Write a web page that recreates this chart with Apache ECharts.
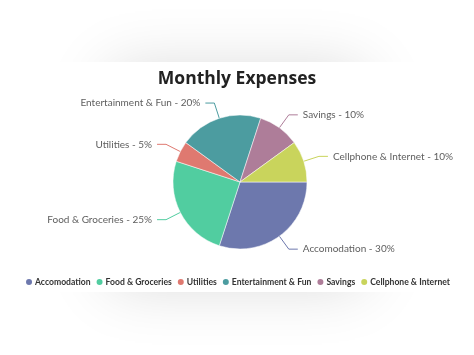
<!DOCTYPE html>
<html><head><meta charset="utf-8">
<script src="https://cdn.jsdelivr.net/npm/echarts@6/dist/echarts.min.js"></script>
<style>html,body{margin:0;padding:0;background:#fff}#c{width:474px;height:355px}</style>
</head><body><div id="c"></div>
<script>
const categories = ["Accomodation","Food & Groceries","Utilities","Entertainment & Fun","Savings","Cellphone & Internet"];
const values = [30,25,5,20,10,10];
const colors = ["#6D78AD","#51CDA0","#DF7970","#4C9CA0","#AE7D99","#C9D45C"];
const font = "Lato, 'Open Sans', sans-serif";
const chart = echarts.init(document.getElementById('c'));
chart.setOption({
  backgroundColor: '#ffffff',
  color: colors,
  graphic: [{
    type: 'rect', z: -20, silent: true,
    shape: {x: 110, y: 70, width: 254, height: 214},
    style: {fill: '#fff', shadowBlur: 60, shadowColor: 'rgba(0,0,0,0.16)'}
  },{
    type: 'rect', z: -10, silent: true,
    shape: {x: 0, y: 62, width: 474, height: 230},
    style: {fill: '#fff'}
  }],
  title: {
    text: 'Monthly Expenses', left: 'center', top: 65,
    textStyle: {fontFamily: "'Open Sans', Lato, sans-serif", fontSize: 17.5, fontWeight: 'bold', color: '#222'}
  },
  legend: {
    top: 277, left: 'center', width: 474, padding: 0, icon: 'circle', itemWidth: 8, itemHeight: 8, itemGap: 4,
    textStyle: {fontFamily: font, fontSize: 8.6, color: '#333', fontWeight: 'bold', padding: [0,0,0,-3]},
    data: categories
  },
  series: [{
    type: 'pie', center: [240, 182], radius: 67, startAngle: 0, clockwise: true,
    avoidLabelOverlap: true,
    label: {formatter: '{b} - {c}%', fontFamily: font, fontSize: 10, color: '#5e5e5e', overflow: 'none'},
    labelLine: {length: 16, length2: 9, lineStyle: {width: 1}},
    itemStyle: {borderColor: '#fff', borderWidth: 0.5},
    data: categories.map((n, i) => ({name: n, value: values[i]}))
  }]
});
</script></body></html>
